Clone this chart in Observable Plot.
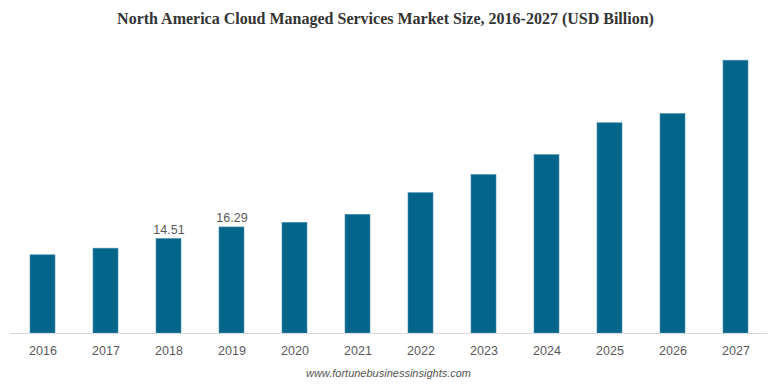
<!DOCTYPE html>
<html>
<head>
<meta charset="utf-8">
<script src="https://cdn.jsdelivr.net/npm/d3@7"></script>
<script src="https://cdn.jsdelivr.net/npm/@observablehq/plot@0.6"></script>
<style>
  html, body { margin: 0; padding: 0; background: #fff; }
  #wrap { width: 771px; }
  #title { height: 40px; line-height: 37px; text-align: center; font-family: "Liberation Serif", "Times New Roman", serif; font-weight: bold; font-size: 16px; color: #333; }
  #caption { height: 25px; line-height: 26px; text-align: center; padding-left: 6px; font-family: "Liberation Sans", Arial, sans-serif; font-style: italic; font-size: 11px; color: #555; }
  svg { display: block; }
</style>
</head>
<body>
<div id="wrap">
  <div id="title">North America Cloud Managed Services Market Size, 2016-2027 (USD Billion)</div>
  <div id="chart"></div>
  <div id="caption">www.fortunebusinessinsights.com</div>
</div>
<script>
const years = ["2016","2017","2018","2019","2020","2021","2022","2023","2024","2025","2026","2027"];
const values = [12.01, 13.03, 14.51, 16.29, 17.0, 18.23, 21.55, 24.34, 27.4, 32.29, 33.71, 41.9];
const labeledYears = ["2018", "2019"];

const data = years.map((y, i) => ({year: y, value: values[i]}));
const labeled = data.filter(d => labeledYears.includes(d.year));

const chart = Plot.plot({
  width: 771,
  height: 320,
  marginLeft: 10,
  marginRight: 3.5,
  marginTop: 0,
  marginBottom: 27,
  style: {fontFamily: "'Liberation Sans', Arial, sans-serif", fontSize: "12.5px", color: "#595959", background: "#fff"},
  x: {domain: years, paddingInner: 0.6, paddingOuter: 0.3, label: null, tickSize: 0, tickPadding: 12.5},
  y: {domain: [0, 45.0], axis: null},
  marks: [
    Plot.barY(data, {x: "year", y: "value", fill: "#04658b", stroke: "#4e90ad", strokeWidth: 0.6}),
    Plot.ruleY([0], {stroke: "#d9d9d9", strokeWidth: 1.2}),
    Plot.text(labeled, {x: "year", y: "value", text: d => d.value.toFixed(2), dy: -9, fill: "#595959", fontSize: 12.5})
  ]
});
document.getElementById("chart").appendChild(chart);
</script>
</body>
</html>
